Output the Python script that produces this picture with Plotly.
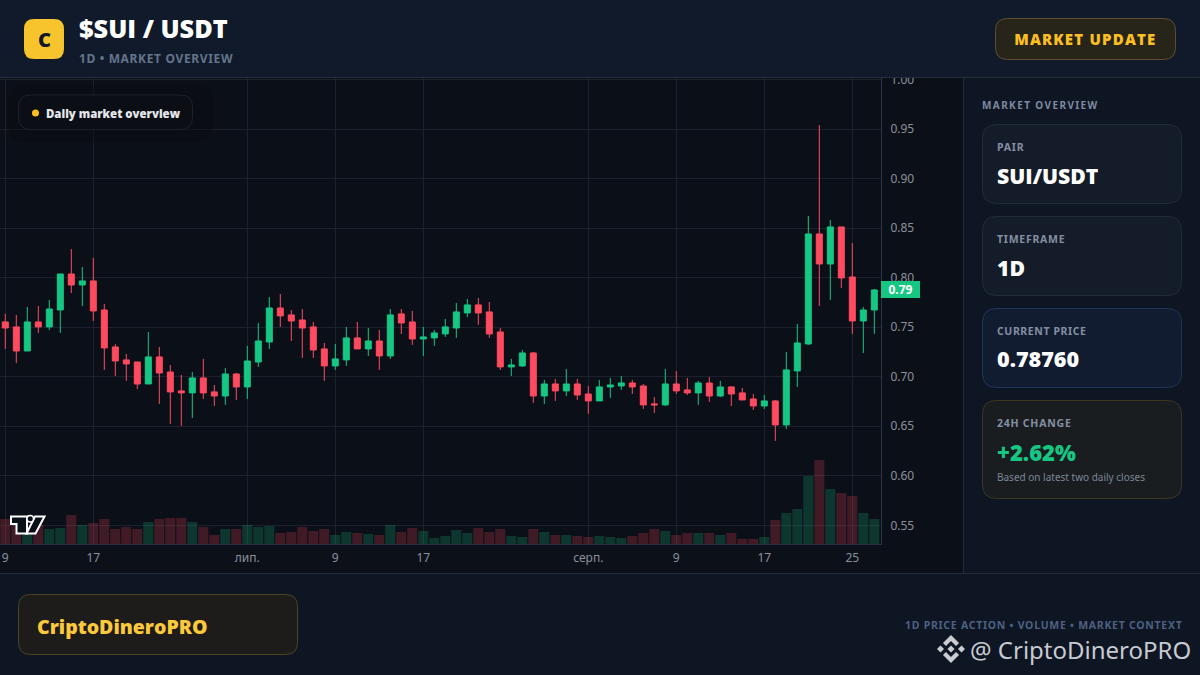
import pandas as pd
import plotly.graph_objects as go

W, H = 1200, 675
FONT = 'Noto Sans'
HEAVY = 'Open Sans'

# daily candles, 9 Jun - 27 Aug
dates = pd.date_range('2024-06-09', '2024-08-27', freq='D').strftime('%Y-%m-%d').tolist()
opens = [.7553,.7503,.7260,.7553,.7503,.7674,.8037,.7926,.7967,.7674,.7301,.7170,.7149,.6927,.7200,.7048,.6857,.6837,.6988,.6847,
         .6806,.7028,.6897,.7149,.7351,.7694,.7624,.7573,.7503,.7281,.7109,.7170,.7392,.7281,.7361,.7210,.7634,.7553,.7381,.7392,
         .7432,.7492,.7644,.7725,.7654,.7452,.7099,.7109,.7240,.6806,.6927,.6857,.6927,.6826,.6756,.6897,.6907,.6937,.6907,.6726,
         .6716,.6927,.6867,.6837,.6937,.6806,.6897,.6837,.6776,.6705,.6756,.6514,.7059,.7331,.8441,.8138,.8512,.8007,.7563,.7674]
highs = [.7634,.7624,.7704,.7714,.7775,.8037,.8289,.8108,.8199,.7735,.7331,.7230,.7149,.7452,.7301,.7119,.7018,.7048,.7180,.6917,
         .7089,.7038,.7311,.7543,.7805,.7835,.7674,.7684,.7553,.7341,.7331,.7503,.7553,.7492,.7472,.7684,.7684,.7664,.7503,.7472,
         .7583,.7745,.7785,.7795,.7755,.7492,.7180,.7270,.7250,.6968,.6978,.7079,.6978,.6907,.6968,.6988,.7008,.6968,.6927,.6796,
         .7079,.7059,.6988,.6958,.6998,.6958,.6907,.6887,.6826,.6816,.6766,.7250,.7533,.8623,.9541,.8582,.8512,.8350,.7704,.7886]
lows = [.7281,.7139,.7260,.7442,.7472,.7442,.7845,.7714,.7563,.7069,.7008,.6958,.6877,.6927,.6726,.6524,.6504,.6584,.6776,.6705,
        .6716,.6766,.6776,.7099,.7281,.7503,.7361,.7190,.7190,.6958,.7069,.7109,.7281,.7210,.7069,.7180,.7432,.7321,.7210,.7311,
        .7402,.7392,.7603,.7523,.7392,.7069,.7008,.7099,.6736,.6726,.6756,.6806,.6766,.6625,.6756,.6786,.6867,.6826,.6675,.6635,
        .6705,.6826,.6816,.6716,.6746,.6796,.6705,.6766,.6665,.6675,.6352,.6473,.6897,.7321,.7714,.7775,.7896,.7432,.7240,.7432]
closes = [.7492,.7260,.7553,.7503,.7684,.8037,.7926,.7967,.7664,.7291,.7159,.7129,.6927,.7200,.7038,.6847,.6837,.6988,.6837,.6806,
          .7028,.6897,.7159,.7361,.7694,.7614,.7563,.7492,.7270,.7109,.7180,.7392,.7281,.7361,.7210,.7624,.7543,.7381,.7402,.7442,
          .7503,.7654,.7725,.7644,.7432,.7099,.7119,.7240,.6806,.6927,.6857,.6927,.6816,.6756,.6897,.6917,.6937,.6897,.6716,.6716,
          .6927,.6857,.6837,.6937,.6806,.6897,.6826,.6766,.6705,.6756,.6514,.7069,.7341,.8441,.8138,.8512,.7997,.7563,.7674,.7876]
volumes = [25,20,14,19,15,16,29,19,21,25,15,17,15,22,25,26,26,22,17,9,
           15,15,19,17,18,11,12,17,13,15,9,12,11,10,9,19,12,16,13,6,
           8,14,11,16,12,15,8,7,15,12,9,9,8,7,8,7,6,8,11,15,
           13,9,11,11,11,9,11,5,5,7,24,31,35,68,84,55,51,48,31,25]

price_ticks = [0.55, 0.60, 0.65, 0.70, 0.75, 0.80, 0.85, 0.90, 0.95, 1.00]
date_ticks = ['2024-06-09', '2024-06-17', '2024-07-01', '2024-07-09', '2024-07-17', '2024-08-01', '2024-08-09', '2024-08-17', '2024-08-25']
date_labels = ['9', '17', 'лип.', '9', '17', 'серп.', '9', '17', '25']

GREEN = '#16c784'
RED = '#ff4a5f'
GRID = '#1c212d'
DAY_MS = 86400000


def px(x, y):
    return x / W, 1 - y / H


def path(points, close=True):
    parts = []
    for i, (x, y) in enumerate(points):
        a, b = px(x, y)
        parts.append(f"{'M' if i == 0 else 'L'} {a:.5f} {b:.5f}")
    return ' '.join(parts) + (' Z' if close else '')


def shape_path(d, fill, line=None, lw=1, layer='above'):
    return dict(type='path', xref='paper', yref='paper', path=d, fillcolor=fill,
                line=dict(color=line or 'rgba(0,0,0,0)', width=lw if line else 0), layer=layer)


def round_rect(x0, y0, x1, y1, r, fill, line=None, lw=1, layer='above'):
    def p(x, y):
        a, b = px(x, y)
        return f'{a:.5f} {b:.5f}'
    d = (f'M {p(x0 + r, y0)} L {p(x1 - r, y0)} Q {p(x1, y0)} {p(x1, y0 + r)} '
         f'L {p(x1, y1 - r)} Q {p(x1, y1)} {p(x1 - r, y1)} '
         f'L {p(x0 + r, y1)} Q {p(x0, y1)} {p(x0, y1 - r)} '
         f'L {p(x0, y0 + r)} Q {p(x0, y0)} {p(x0 + r, y0)} Z')
    return shape_path(d, fill, line, lw, layer)


def rect(x0, y0, x1, y1, fill, layer='above'):
    a0, b0 = px(x0, y0)
    a1, b1 = px(x1, y1)
    return dict(type='rect', xref='paper', yref='paper', x0=a0, x1=a1, y0=b0, y1=b1,
                fillcolor=fill, line=dict(width=0), layer=layer)


def text(x, y, s, size, color, weight=400, anchor='left', family=FONT):
    a, b = px(x, y)
    return dict(xref='paper', yref='paper', x=a, y=b, text=s, showarrow=False, xanchor=anchor, yanchor='middle',
                align=anchor, borderpad=0, borderwidth=0, font=dict(family=family, size=size, color=color, weight=weight))


vol_colors = ['rgba(22,199,132,0.22)' if c >= o else 'rgba(255,74,95,0.22)' for o, c in zip(opens, closes)]

fig = go.Figure()
fig.add_trace(go.Bar(x=dates, y=volumes, marker=dict(color=vol_colors, line=dict(width=0)),
                     width=DAY_MS * 10 / 11, yaxis='y2', hoverinfo='skip'))
fig.add_trace(go.Candlestick(x=dates, open=opens, high=highs, low=lows, close=closes, yaxis='y',
                             increasing=dict(line=dict(color=GREEN, width=1), fillcolor=GREEN),
                             decreasing=dict(line=dict(color=RED, width=1), fillcolor=RED)))

shapes = [
    # panels
    rect(881, 78, 963, 573, '#0b0f17', 'below'),
    rect(0, 544, 881, 573, '#0c1119', 'below'),
    rect(963, 78, 1200, 573, '#0f1623', 'below'),
    rect(963, 78, 964, 573, '#232a3a', 'below'),
    rect(0, 573, 1200, 675, '#0e1523', 'above'),
    rect(0, 573, 1200, 574, '#232a3a', 'above'),
    rect(0, 0, 1200, 78, '#111a2b', 'above'),
    rect(0, 77, 1200, 78, '#262e3e', 'above'),
    # header
    round_rect(24, 19, 64, 59, 10, '#f7c42e'),
    round_rect(995.5, 18.5, 1175.5, 59.5, 12, '#27241a', '#5b5130'),
    # overlay pill
    round_rect(8, 85, 213, 142, 18, 'rgba(8,10,15,0.45)'),
    round_rect(18.5, 95, 192.5, 129.5, 12, '#0b0e15', '#1d222e'),
    dict(type='circle', xref='paper', yref='paper', x0=32 / W, x1=39 / W, y0=1 - 116.5 / H, y1=1 - 109.5 / H,
         fillcolor='#fbbf24', line=dict(width=0), layer='above'),
    # cards
    round_rect(982.5, 124.5, 1181.5, 203.5, 14, '#151c29', '#222b3b'),
    round_rect(982.5, 216.5, 1181.5, 295.5, 14, '#151c29', '#222b3b'),
    round_rect(982.5, 308.5, 1181.5, 387.5, 14, '#121c31', '#213554'),
    round_rect(982.5, 400.5, 1181.5, 498.5, 14, '#1a1d20', '#3e3720'),
    # footer box
    round_rect(18.5, 594.5, 297.5, 654.5, 12, '#1e1c1b', '#4d4426'),
    # tradingview mark
    shape_path(path([(11, 516.5), (27, 516.5), (27, 533.5), (16.5, 533.5), (16.5, 524), (11, 524)]), '#0b0f17', '#ffffff', 2),
    shape_path(path([(35, 516.5), (44.5, 516.5), (35.5, 533.5), (26.5, 533.5)]), '#0b0f17', '#ffffff', 2),
    dict(type='circle', xref='paper', yref='paper', x0=27 / W, x1=33.5 / W, y0=1 - 522 / H, y1=1 - 515.5 / H,
         fillcolor='#0b0f17', line=dict(color='#ffffff', width=1.5), layer='above'),
    # diamond mark beside the handle
    shape_path(path([(951, 635), (959, 643), (956, 646), (951, 641), (946, 646), (943, 643)]), '#c9cdd2'),
    shape_path(path([(951, 663), (959, 655), (956, 652), (951, 657), (946, 652), (943, 655)]), '#c9cdd2'),
    shape_path(path([(937, 649), (940.5, 645.5), (944, 649), (940.5, 652.5)]), '#c9cdd2'),
    shape_path(path([(958, 649), (961.5, 645.5), (965, 649), (961.5, 652.5)]), '#c9cdd2'),
    shape_path(path([(947.5, 649), (951, 645.5), (954.5, 649), (951, 652.5)]), '#c9cdd2'),
]

annotations = [
    text(44, 40, 'C', 20, '#111827', 800, 'center', HEAVY),
    text(79, 27.5, '$SUI / USDT', 25.3, '#ffffff', 800, 'left', HEAVY),
    text(79, 59, '1D • MARKET OVERVIEW', 12, '#64748b', 700),
    text(1085.5, 39, 'MARKET UPDATE', 15, '#fbbf24', 800, 'center', HEAVY),
    text(46, 113, 'Daily market overview', 11.4, '#e5e7eb', 800, 'left', HEAVY),
    text(982, 105, 'MARKET OVERVIEW', 10, '#7d8aa0', 700),
    text(997, 147, 'PAIR', 10.5, '#848fa3', 700),
    text(997, 175.5, 'SUI/USDT', 21.2, '#ffffff', 800, 'left', HEAVY),
    text(997, 239, 'TIMEFRAME', 10.5, '#848fa3', 700),
    text(997, 267, '1D', 21.2, '#ffffff', 800, 'left', HEAVY),
    text(997, 331, 'CURRENT PRICE', 10.5, '#848fa3', 700),
    text(997, 359, '0.78760', 21.6, '#ffffff', 800, 'left', HEAVY),
    text(997, 423, '24H CHANGE', 10.5, '#848fa3', 700),
    text(997, 452, '+2.62%', 22, GREEN, 800, 'left', HEAVY),
    text(997, 477, 'Based on latest two daily closes', 10, '#7b8698', 400),
    text(37, 626, 'CriptoDineroPRO', 19.5, '#fcc93a', 800, 'left', HEAVY),
    text(1182, 625, '1D PRICE ACTION • VOLUME • MARKET CONTEXT', 10.5, '#4f6182', 700, 'right'),
    text(970, 649, '@ CriptoDineroPRO', 24, '#c7cbd1', 400),
    dict(xref='paper', yref='y', x=881 / W, y=closes[-1], text=f'{closes[-1]:.2f}', showarrow=False,
         xanchor='left', yanchor='middle', width=39, height=17, bgcolor=GREEN, borderpad=0, borderwidth=0,
         font=dict(family=FONT, size=12, color='#ffffff', weight=700)),
]

fig.update_layout(
    width=W, height=H, margin=dict(l=0, r=0, t=0, b=0), autosize=False,
    paper_bgcolor='#0b0f17', plot_bgcolor='#0b0f17', showlegend=False, shapes=shapes, annotations=annotations,
    boxgap=5 / 11, boxgroupgap=0,
    xaxis=dict(type='date', domain=[0, 881 / W], range=['2024-06-08 12:26', '2024-08-27 14:36'], automargin=False,
               rangeslider=dict(visible=False), tickmode='array', tickvals=date_ticks, ticktext=date_labels,
               showgrid=True, gridcolor=GRID, gridwidth=1, zeroline=False, showline=True, linecolor='#2a3040',
               ticks='outside', ticklen=3, tickcolor='rgba(0,0,0,0)', tickfont=dict(family=FONT, size=12, color='#8b909c'),
               anchor='y'),
    yaxis=dict(domain=[1 - 544 / H, 1 - 78 / H], range=[0.5312, 1.0015], side='right', tickmode='array', tickvals=price_ticks,
               automargin=False, tickformat='.2f', showgrid=True, gridcolor=GRID, gridwidth=1, zeroline=False, showline=True,
               linecolor='#2a3446', ticks='outside', ticklen=6, tickcolor='rgba(0,0,0,0)',
               tickfont=dict(family=FONT, size=12, color='#8b909c'), anchor='x'),
    yaxis2=dict(domain=[1 - 544 / H, 1 - 78 / H], range=[0, 466], overlaying='y', visible=False, automargin=False),
)

spacing = {'MARKET UPDATE': 1.2, '1D • MARKET OVERVIEW': 0.65, 'MARKET OVERVIEW': 1.4, 'PAIR': 0.8, 'TIMEFRAME': 0.75,
           'CURRENT PRICE': 0.6, '24H CHANGE': 0.77, '1D PRICE ACTION • VOLUME • MARKET CONTEXT': 0.73}
js = ("document.body.style.margin='0';var sp=" + str(spacing).replace("'", '"') +
      ";document.querySelectorAll('.annotation-text').forEach(function(t){if(sp[t.textContent])t.style.letterSpacing=sp[t.textContent]+'px';});")
fig.write_html("out.html", config={'displayModeBar': False}, post_script=js)
